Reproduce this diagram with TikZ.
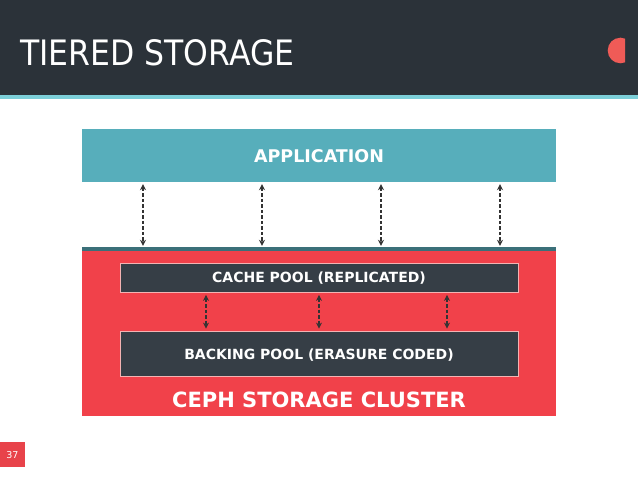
\documentclass[tikz,border=0pt]{standalone}
\usepackage{fontspec}
\setmainfont{DejaVu Sans}
\newfontfamily\titlefont[FakeStretch=0.9]{DejaVu Sans}
\usetikzlibrary{arrows.meta}
\definecolor{hdr}{HTML}{2B3239}
\definecolor{hdrline}{HTML}{7CCFD8}
\definecolor{appc}{HTML}{57AEBB}
\definecolor{redc}{HTML}{F1414A}
\definecolor{poolc}{HTML}{363E46}
\definecolor{poolb}{HTML}{F4B3B3}
\definecolor{stripe}{HTML}{3B7079}
\definecolor{arr}{HTML}{333333}
\definecolor{dotc}{HTML}{EF5B57}
\definecolor{pagec}{HTML}{E8434A}
\tikzset{
  poolbox/.style={draw=poolb, line width=0.8pt, fill=poolc, text=white, font=\bfseries\fontsize{14}{16}\selectfont, minimum width=398pt, inner sep=0pt, text height=10.2pt, text depth=0pt},
  linkarrow/.style={draw=arr, line width=1.8pt, dash pattern=on 3.5pt off 2pt, {Stealth[length=6pt,width=6pt]}-{Stealth[length=6pt,width=6pt]}},
}
\begin{document}
\begin{tikzpicture}[x=1pt,y=-1pt]
\useasboundingbox (0,0) rectangle (638,478);
\fill[white] (0,0) rectangle (638,478);
% header
\fill[hdr] (0,0) rectangle (638,95);
\fill[hdrline] (0,95) rectangle (638,99);
\node[anchor=base west, inner sep=0pt, text=white, font=\titlefont\fontsize{35}{40}\selectfont] (title) at (20,66) {TIERED STORAGE};
\begin{scope}
\clip (600,30) rectangle (625,70);
\fill[dotc] (620.5,50.5) circle (12.8);
\end{scope}
% application
\node[fill=appc, minimum width=474pt, minimum height=53pt, inner sep=0pt, text height=14.8pt, text depth=0pt, text=white, font=\bfseries\fontsize{17.5}{20}\selectfont] (app) at (319,155.5) {APPLICATION};
% cluster
\node[fill=redc, minimum width=474pt, minimum height=169pt, inner sep=0pt] (cluster) at (319,332) {};
\fill[stripe] (cluster.north west) rectangle ([yshift=-3.5pt]cluster.north east);
\node[text=white, font=\bfseries\fontsize{21}{24}\selectfont, inner sep=0pt, text height=15.3pt, text depth=0pt] (ceph) at (319,399.5) {CEPH STORAGE CLUSTER};
% pools
\node[poolbox, minimum height=29pt] (cache) at (319,277.5) {CACHE POOL (REPLICATED)};
\node[poolbox, minimum height=45pt] (backing) at (319,354) {BACKING POOL (ERASURE CODED)};
% arrow x positions
\foreach \i/\x in {1/143,2/262,3/381,4/500} {
  \coordinate (a\i) at (\x,0);
  \draw[linkarrow, shorten <=2pt, shorten >=1.5pt] (app.south -| a\i) -- (cluster.north -| a\i);
}
\foreach \i/\x in {1/206,2/319,3/447} {
  \coordinate (b\i) at (\x,0);
  \draw[linkarrow, shorten <=2.5pt, shorten >=2.5pt] (cache.south -| b\i) -- (backing.north -| b\i);
}
% page number
\node[fill=pagec, minimum width=25pt, minimum height=25pt, inner sep=0pt, text=white, font=\fontsize{9.5}{11}\selectfont] (page) at (12.5,455) {37};
\end{tikzpicture}
\end{document}
